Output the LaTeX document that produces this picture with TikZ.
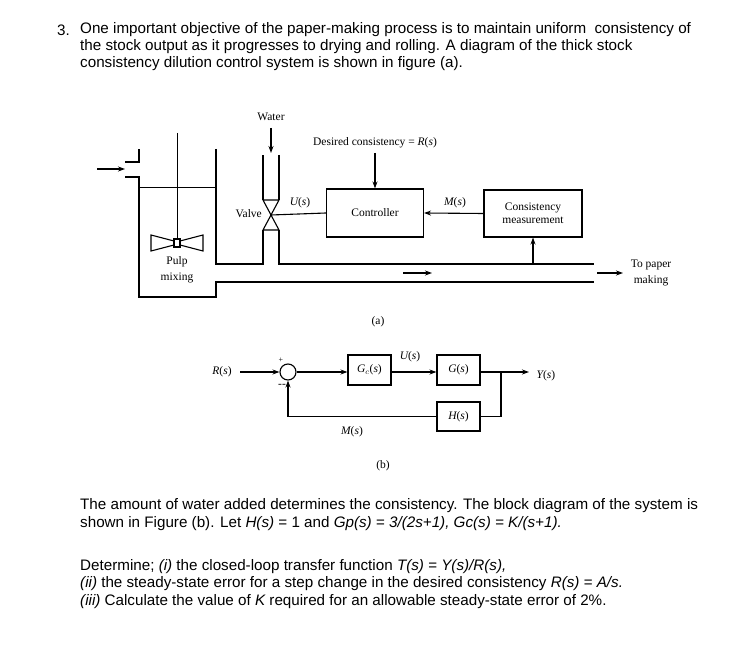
\documentclass[tikz,border=0pt]{standalone}
\usepackage{fontspec}
\setmainfont{Liberation Sans}
\newfontfamily\dia{Liberation Serif}
\usetikzlibrary{arrows.meta}
\begin{document}
\begin{tikzpicture}[x=1pt,y=-1pt,
  txt/.style={anchor=west,inner sep=0,font=\fontsize{15.2}{17}\selectfont},
  dt/.style={inner sep=0,font=\dia\fontsize{11.5}{13}\selectfont},
  blk/.style={draw,line width=1.1pt,minimum width=43,minimum height=30,inner sep=0,font=\dia\fontsize{11.5}{13}\selectfont},
  ar/.style={-{Stealth[length=7pt,width=5pt]},line width=1.1pt},
  ln/.style={line width=1.1pt}]
\useasboundingbox (0,0) rectangle (756,652);
% paragraph 1
\node[txt] (n3) at (57,30) {3.};
\node[txt] (p1) at (80,30) {One important objective of the paper-making process is to maintain uniform\ \ consistency of};
\node[txt] (p2) at (80,47) {the stock output as it progresses to drying and rolling. A diagram of the thick stock};
\node[txt] (p3) at (80,64) {consistency dilution control system is shown in figure (a).};
% tank
\draw[ln] (125,162) -- (139,162) -- (139,149);
\draw[ln] (125,177) -- (139,177) -- (139,297) -- (216,297) -- (216,282) -- (594,282);
\draw[ln] (216,149) -- (216,264) -- (263,264) -- (263,230);
\draw[ln] (263,200) -- (263,155);
\draw[ln] (279,155) -- (279,200);
\draw[ln] (279,230) -- (279,264) -- (594,264);
\draw (139,187) -- (216,187);
\coordinate (inA) at (97,169); \coordinate (inB) at (125,169);
\draw[ar] (inA) -- (inB);
\draw (177,133) -- (177,239);
\draw[ln] (151,235) -- (151,251) -- (174,245) -- (174,241) -- cycle;
\draw[ln] (203,235) -- (203,251) -- (180,245) -- (180,241) -- cycle;
\draw[ln] (174,239) rectangle (180,247);
\node[dt] (pulp) at (177,262) {Pulp};
\node[dt] (mix) at (177,278) {mixing};
% valve
\draw[ln] (263,200) -- (279,230) -- (263,230) -- (279,200) -- cycle;
\coordinate (vc) at (271,215);
\node[dt,anchor=east] (valve) at (262,214) {Valve};
\node[dt] (water) at (271,117) {Water};
\coordinate (wt) at (271,128);
\coordinate (wb) at (271,153);
\draw[ar] (wt) -- (wb);
% controller
\node[blk,minimum width=97,minimum height=48] (ctrl) at (375,213) {Controller};
\node[blk,minimum width=98,minimum height=47,align=center] (meas) at (533,213.5) {Consistency\\measurement};
\draw[ln] (vc) -- (ctrl.west);
\node[dt] (us) at (300,203) {\itshape U\upshape(\itshape s\upshape)};
\node[dt] (des) at (375,143) {Desired consistency = \itshape R\upshape(\itshape s\upshape)};
\coordinate (dtop) at (375,153);
\draw[ar] (dtop) -- (ctrl.north);
\draw[ar] (meas.west) -- (ctrl.east);
\node[dt] (ms) at (455,203) {\itshape M\upshape(\itshape s\upshape)};
\coordinate (tap) at (533,264);
\draw[ar] (tap) -- (meas.south);
\coordinate (fa) at (403,273); \coordinate (fb) at (432,273);
\draw[ar] (fa) -- (fb);
\coordinate (oa) at (597,273); \coordinate (ob) at (623,273);
\draw[ar] (oa) -- (ob);
\node[dt] (topap) at (651,265) {To paper};
\node[dt] (topm) at (651,281) {making};
\node[dt] (la) at (378,322) {(a)};
% block diagram
\node[dt] (R) at (222,372) {\itshape R\upshape(\itshape s\upshape)};
\node[draw,line width=1.1pt,circle,minimum size=16,inner sep=0] (sum) at (288,372) {};
\node[blk] (gc) at (369.5,370) {\itshape G\upshape$_c$(\itshape s\upshape)};
\node[blk] (g) at (458.5,370) {\itshape G\upshape(\itshape s\upshape)};
\node[blk,minimum height=29] (h) at (458.5,416.5) {\itshape H\upshape(\itshape s\upshape)};
\node[dt] (plus) at (281,360) {\footnotesize +};
\node[dt] (minus) at (282,386) {--};
\coordinate (rs) at (240,372);
\draw[ar] (rs) -- (sum.west);
\draw[ar] (sum.east) -- (gc.west|-sum.east);
\draw[ar] (gc.east|-sum) -- (g.west|-sum);
\node[dt] (us2) at (410,357) {\itshape U\upshape(\itshape s\upshape)};
\coordinate (br) at (501,372);
\coordinate (yend) at (529,372);
\coordinate (gout) at (g.east|-sum);
\draw[ar] (gout) -- (yend);
\node[dt] (Y) at (546,376) {\itshape Y\upshape(\itshape s\upshape)};
\draw[ln] (br) |- (h.east);
\draw[ar] (h.west) -| (sum.south);
\node[dt] (ms2) at (352,432) {\itshape M\upshape(\itshape s\upshape)};
\node[dt] (lb) at (383,466) {(b)};
% paragraphs 2,3
\node[txt] (q1) at (80,506) {The amount of water added determines the consistency. The block diagram of the system is};
\node[txt] (q2) at (80,524) {shown in Figure (b). Let \itshape H(s)\upshape{} = 1 and \itshape Gp(s) = 3/(2s+1), Gc(s) = K/(s+1).};
\node[txt] (r1) at (80,567) {Determine; \itshape (i)\upshape{} the closed-loop transfer function \itshape T(s) = Y(s)/R(s),};
\node[txt] (r2) at (80,584) {\itshape (ii)\upshape{} the steady-state error for a step change in the desired consistency \itshape R(s) = A/s.};
\node[txt] (r3) at (80,602) {\itshape (iii)\upshape{} Calculate the value of \itshape K\upshape{} required for an allowable steady-state error of 2\%.};
\end{tikzpicture}
\end{document}
